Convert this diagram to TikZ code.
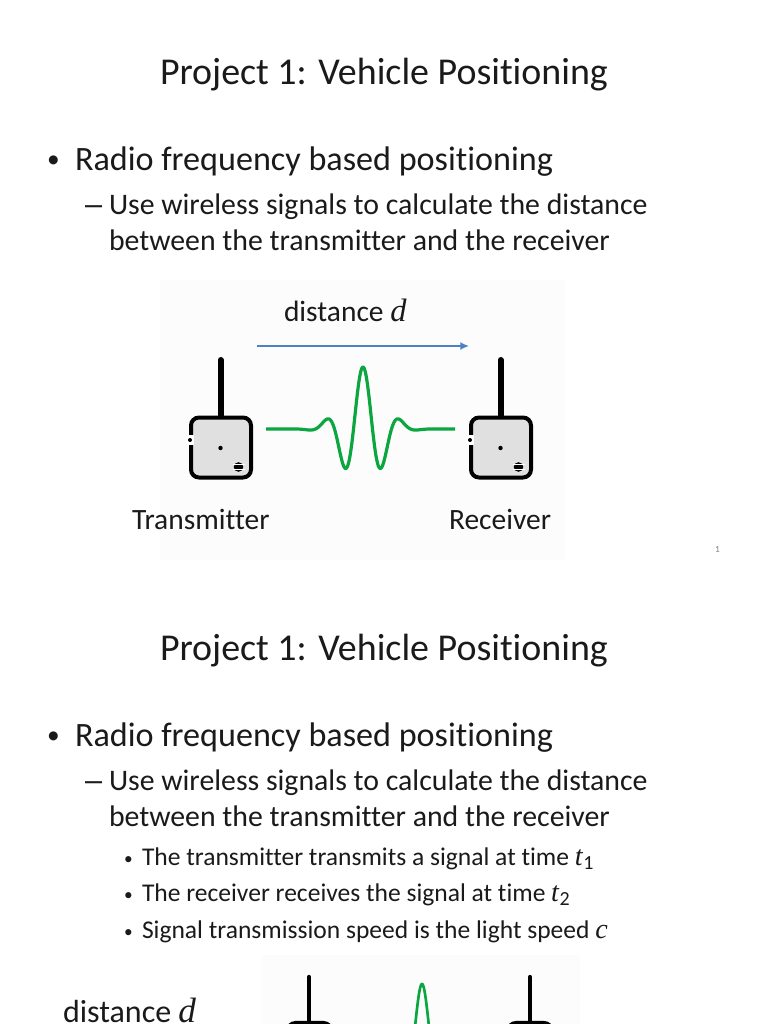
\documentclass[tikz,border=0pt]{standalone}
\usepackage{fontspec}
\setmainfont{Carlito}[Ligatures=NoCommon]
\newfontfamily\varfont{Liberation Serif}[Scale=1.1]
\newfontfamily\dashfont{Liberation Sans}
\usetikzlibrary{arrows.meta}
\definecolor{wavegreen}{HTML}{0BA640}
\definecolor{arrowblue}{HTML}{4A82C3}
\definecolor{devfill}{HTML}{E0E0E0}
\definecolor{inktext}{HTML}{1A1A1A}
\newcommand{\vv}[1]{{\varfont\itshape #1}}
\tikzset{
  x=0.75pt,y=-0.75pt,
  txt/.style={anchor=base west,inner sep=0pt,outer sep=0pt,text=inktext},
  titletext/.style={txt,font=\fontsize{28.45}{28.45}\selectfont},
  lone/.style={txt,font=\fontsize{25.6}{25.6}\selectfont},
  bulone/.style={txt,font=\fontsize{19}{19}\selectfont},
  ltwo/.style={txt,font=\fontsize{22.35}{22.35}\selectfont},
  dashtwo/.style={txt,font=\dashfont\fontsize{23}{23}\selectfont},
  lthree/.style={txt,font=\fontsize{19.15}{19.15}\selectfont},
  bulthree/.style={txt,font=\fontsize{13}{13}\selectfont},
  lfig/.style={txt,font=\fontsize{22.1}{22.1}\selectfont},
  lfigb/.style={txt,font=\fontsize{24}{24}\selectfont},
  devbox/.style={draw=black,fill=devfill,rounded corners=6pt,line width=3pt,minimum width=45pt,minimum height=45pt,inner sep=0pt},
  devboxs/.style={devbox,minimum width=33pt,minimum height=33pt,line width=2.3pt},
  antenna/.style={line width=4.5pt,line cap=round,black},
  antennas/.style={line width=3.2pt,line cap=round,black},
  wave/.style={wavegreen,line width=2.4pt,line join=round},
  waves/.style={wave,line width=2pt},
  arrowline/.style={arrowblue,line width=1.5pt,-{Latex[length=6.5pt,width=6pt]}},
}
\newcommand{\devdetail}[2]{%
  \fill[white] (#1-34,#2-13) rectangle (#1-27,#2-3);
  \fill[black] (#1-30.5,#2-8) circle (2);
  \fill[black] (#1,#2) circle (2.2);
  \fill[black] (#1+18,#2+19) circle (4.8);
  \fill[white] (#1+12,#2+16.2) rectangle (#1+24,#2+17.2);
  \fill[white] (#1+12,#2+20.6) rectangle (#1+24,#2+21.6);
}
\begin{document}
\begin{tikzpicture}
\useasboundingbox (0,0) rectangle (768,1024);
\clip (0,0) rectangle (768,1024);
\fill[white] (0,0) rectangle (768,1024);
\fill[black!1] (160,280) rectangle (565,560);
\fill[black!1] (262,955) rectangle (580,1024);
% first slide
\node[titletext] (t1) at (160,84.5) {Project 1: Vehicle Positioning};
\node[bulone] (b1) at (47,167.5) {•};
\node[lone] (r1) at (75,170.5) {Radio frequency based positioning};
\node[dashtwo] (d1) at (85,214) {–};
\node[ltwo] (u1) at (109,214) {Use wireless signals to calculate the distance};
\node[ltwo] (u2) at (109,250) {between the transmitter and the receiver};
\node[lfig] (dist1) at (284,321) {distance \vv{d}};
\node[lfig] (txl) at (132,529) {Transmitter};
\node[lfig] (rxl) at (449,529) {Receiver};
\node[txt,font=\fontsize{7}{7}\selectfont,text=black!50] (pg) at (715,552) {1};
\coordinate (ar1) at (257,346);
\coordinate (ar2) at (469,346);
\draw[arrowline] (ar1) -- (ar2);
\coordinate (ant1) at (220.7,360);
\coordinate (ant2) at (500.7,360);
\draw[antenna] (ant1) -- (220.7,420);
\draw[antenna] (ant2) -- (500.7,420);
\node[devbox] (tx) at (221,447.5) {};
\node[devbox] (rx) at (501,447.5) {};
\devdetail{220.5}{448}
\devdetail{500.5}{448}
\draw[wave] (266,429) -- (293,429) plot[domain=-70:70,samples=180,smooth] ({363+\x},{429-62*cos(9.4737*\x)*exp(0-\x*\x/729)}) -- (455,429);
% second slide
\node[titletext] (t2) at (160,660.5) {Project 1: Vehicle Positioning};
\node[bulone] (b2) at (47,743.5) {•};
\node[lone] (r2) at (75,746.5) {Radio frequency based positioning};
\node[dashtwo] (d2) at (85,790) {–};
\node[ltwo] (v1) at (109,790) {Use wireless signals to calculate the distance};
\node[ltwo] (v2) at (109,826) {between the transmitter and the receiver};
\node[bulthree] (s0) at (124,864) {•};
\node[lthree] (s1) at (142,865) {The transmitter transmits a signal at time \vv{t}\kern0.5pt\raisebox{-3pt}{\fontsize{15}{15}\selectfont 1}};
\node[bulthree] (s2) at (124,900) {•};
\node[lthree] (s3) at (142,901) {The receiver receives the signal at time \vv{t}\kern0.5pt\raisebox{-3pt}{\fontsize{15}{15}\selectfont 2}};
\node[bulthree] (s4) at (124,937) {•};
\node[lthree] (s5) at (142,938) {Signal transmission speed is the light speed \vv{c}};
\node[lfigb] (dist2) at (63,1022) {distance \vv{d}};
\coordinate (ant3) at (309,977);
\coordinate (ant4) at (530,977);
\draw[antennas] (ant3) -- (309,1024);
\draw[antennas] (ant4) -- (530,1024);
\node[devboxs] (tx2) at (309.5,1044.5) {};
\node[devboxs] (rx2) at (530,1044.5) {};
\draw[waves] plot[domain=-8:8,samples=40,smooth] ({422+\x},{1031-47*cos(12*\x)*exp(0-\x*\x/441)});
\end{tikzpicture}
\end{document}
